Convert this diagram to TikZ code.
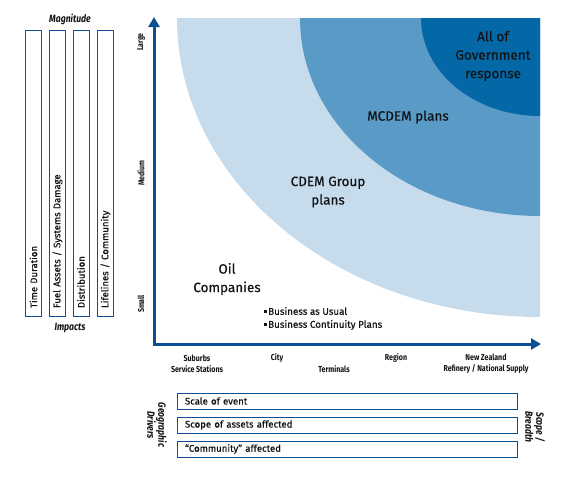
\documentclass[tikz,border=0pt]{standalone}
\usepackage{fontspec}
\setmainfont{Fira Sans}[UprightFeatures={FakeBold=0.6}]
\newfontfamily\condfont{Fira Sans}[FakeStretch=0.82]
\usetikzlibrary{arrows.meta}
\definecolor{axisblue}{HTML}{0B4F95}
\definecolor{lightzone}{HTML}{C6DBEB}
\definecolor{midzone}{HTML}{5A9AC6}
\definecolor{darkzone}{HTML}{0467A6}
\definecolor{inkblack}{HTML}{111418}
\newcommand{\fsz}[2]{\fontsize{#1}{#2}\selectfont}
\newcommand{\sqbullet}{\raisebox{2pt}{\rule{2.4pt}{2.4pt}}\,}
\tikzset{
  every node/.style={text=inkblack},
  impactbox/.style={draw=axisblue, line width=0.9pt, rotate=90, minimum height=16pt,
    text width=270pt, inner xsep=8pt, inner ysep=0pt, align=left, font=\fsz{9.6}{11}},
  driverbox/.style={draw=axisblue, line width=0.9pt, minimum height=16pt,
    text width=324pt, inner xsep=8pt, inner ysep=0pt, align=left, font=\fsz{9.6}{11}},
  axis/.style={axisblue, line width=3pt},
  sizelabel/.style={rotate=90, font=\condfont\bfseries\fsz{8.5}{9}},
  placelabel/.style={font=\condfont\bfseries\fsz{8.6}{11}, align=center, inner sep=0pt},
  zonelabel/.style={font=\fsz{13.5}{18.5}, align=center, inner sep=0pt},
  heading/.style={font=\condfont\bfseries\itshape\fsz{10.5}{11}, align=center, inner sep=0pt}
}
\begin{document}
\begin{tikzpicture}[x=1pt, y=-1pt]
  \useasboundingbox (0,0) rectangle (566,493);
  % response zones
  \begin{scope}
    \clip (154,18) rectangle (540,344);
    \fill [lightzone] (540,18) ellipse [x radius=363, y radius=299];
    \fill [midzone] (540,18) ellipse [x radius=240, y radius=198];
    \fill [darkzone] (540,18) ellipse [x radius=119, y radius=98];
  \end{scope}
  \node [zonelabel] (govt) at (493,56) {All of\\Government\\response};
  \node [zonelabel] (mcdem) at (408,117) {MCDEM plans};
  \node [zonelabel] (cdem) at (328,192) {CDEM Group\\plans};
  \node [zonelabel] (oil) at (227,279) {Oil\\Companies};
  \node [font=\fsz{9.8}{13}, align=left, anchor=west, inner sep=0pt]
    (bau) at (264,318.5) {\sqbullet Business as Usual\\\sqbullet Business Continuity Plans};
  % axes
  \coordinate (origin) at (154,344);
  \coordinate (ytip) at (154,17);
  \coordinate (xtip) at (541,344);
  \draw [axis, {Triangle[length=10pt,width=11pt]}-{Triangle[length=10pt,width=11pt]}]
    (ytip) -- (origin) -- (xtip);
  \node [sizelabel] (large) at (141,42) {Large};
  \node [sizelabel] (medium) at (141,173) {Medium};
  \node [sizelabel] (small) at (141,304) {Small};
  \node [placelabel] (suburbs) at (197,363.5) {Suburbs\\Service Stations};
  \node [placelabel] (city) at (277,358) {City};
  \node [placelabel] (terminals) at (334,369) {Terminals};
  \node [placelabel] (region) at (396,358) {Region};
  \node [placelabel] (nz) at (486,363.5) {New Zealand\\Refinery / National Supply};
  % impacts
  \node [heading] (magnitude) at (70,19) {Magnitude};
  \node [impactbox] (duration) at (33.5,173) {Time Duration};
  \node [impactbox] (damage) at (57.5,173) {Fuel Assets / Systems Damage};
  \node [impactbox] (distribution) at (81,173) {Distribution};
  \node [impactbox] (lifelines) at (105.5,173) {Lifelines / Community};
  \node [heading] (impacts) at (70,328) {Impacts};
  % geographic drivers
  \node [driverbox] (scale) at (347,401) {Scale of event};
  \node [driverbox] (assets) at (347,425) {Scope of assets affected};
  \node [driverbox] (community) at (347,449) {``Community'' affected};
  \node [heading, rotate=-90] (drivers) at (157,425) {Geographic\\Drivers};
  \node [heading, rotate=-90] (breadth) at (535,427) {Scope /\\Breadth};
\end{tikzpicture}
\end{document}
